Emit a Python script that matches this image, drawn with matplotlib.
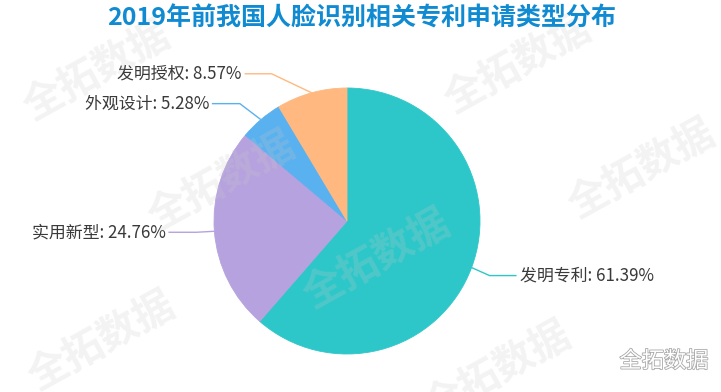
import numpy as np
import matplotlib
matplotlib.use('Agg')
import matplotlib.pyplot as plt
import matplotlib.patheffects as pe

plt.rcParams['font.family'] = ['Noto Sans CJK SC', 'DejaVu Sans']

# data
categories = ['发明专利', '实用新型', '外观设计', '发明授权']
shares = [61.39, 24.76, 5.28, 8.57]
colors = ['#2ec7c9', '#b6a2de', '#5ab1ef', '#ffb980']
title = '2019年前我国人脸识别相关专利申请类型分布'
watermark = '全拓数据'

W, H = 721, 392
cx, cy, r = 347, 221, 133  # pie centre / radius in pixels (y from top)

fig = plt.figure(figsize=(W / 100, H / 100), dpi=100)
ax = fig.add_axes([0, 0, 1, 1])

def Y(y):
    return H - y

wedges, _ = ax.pie(shares, colors=colors, startangle=90, counterclock=False,
                   radius=r, center=(cx, Y(cy)),
                   wedgeprops=dict(linewidth=0.6, edgecolor='none'))
for w, c in zip(wedges, colors):
    w.set_edgecolor(c)

# label layout: elbow offset from edge point, horizontal length, side
layout = [(18, 8, 27, 'left'),
          (-18, 1, 28, 'right'),
          (-21, -16, 28, 'right'),
          (-40, -19, 27, 'right')]

for w, c, cat, v, (dx, dy, ln, side) in zip(wedges, colors, categories, shares, layout):
    mid = np.deg2rad((w.theta1 + w.theta2) / 2)
    ex = cx + r * np.cos(mid)
    ey = Y(cy) + r * np.sin(mid)
    bx, by = ex + dx, ey - dy
    sx = bx + ln if side == 'left' else bx - ln
    ax.plot([ex, bx, sx], [ey, by, by], color=c, lw=1, solid_capstyle='butt')
    tx = sx + 3 if side == 'left' else sx - 3
    ax.text(tx, by, f'{cat}: {v:.2f}%', ha=side, va='center',
            fontsize=12.2, color='#3a3a3a')

# watermarks (partly off the edge, as in the original)
for x, y in [(97, 72), (518, 65), (222, 182), (642, 170), (377, 260), (102, 342), (498, 372)]:
    ax.text(x, Y(y), watermark, rotation=29, ha='center', va='center',
            fontsize=29, fontweight='bold', color='#c8c8c8', alpha=0.22,
            rotation_mode='anchor', clip_on=True)

# embossed corner mark
ax.text(664, Y(361), watermark, ha='center', va='center', fontsize=16,
        color='white',
        path_effects=[pe.withStroke(linewidth=1.2, foreground='#a8a8a8')])

ax.text(W / 2 + 1, Y(18), title, ha='center', va='center', fontsize=18,
        fontweight='bold', color='#108bd2')

ax.set_xlim(0, W)
ax.set_ylim(0, H)
ax.set_aspect('auto')
ax.axis('off')

fig.savefig('out.png', dpi=100)
